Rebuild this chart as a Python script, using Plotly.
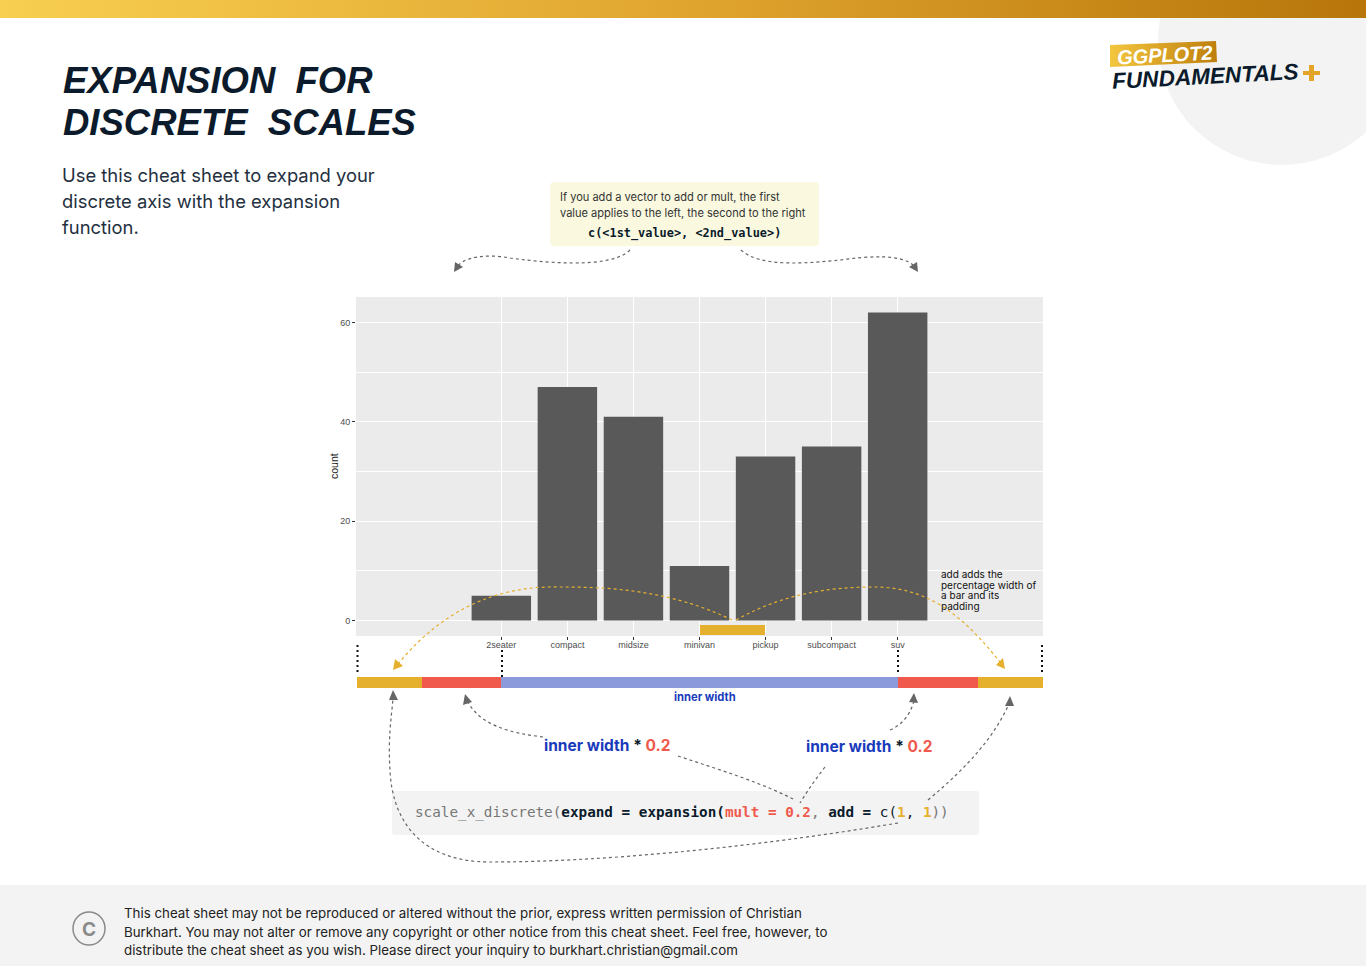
import plotly.graph_objects as go

# chart data
classes = ['2seater', 'compact', 'midsize', 'minivan', 'pickup', 'subcompact', 'suv']
counts = [5, 47, 41, 11, 33, 35, 62]
y_ticks = [0, 20, 40, 60]
y_minor = [10, 30, 50]

title_lines = ['EXPANSION  FOR', 'DISCRETE  SCALES']
intro_lines = ['Use this cheat sheet to expand your', 'discrete axis with the expansion', 'function.']
note_lines = ['If you add a vector to add or mult, the first', 'value applies to the left, the second to the right']
add_lines = ['add adds the', 'percentage width of', 'a bar and its', 'padding']
footer_lines = ['This cheat sheet may not be reproduced or altered without the prior, express written permission of Christian',
                'Burkhart. You may not alter or remove any copyright or other notice from this cheat sheet. Feel free, however, to',
                'distribute the cheat sheet as you wish. Please direct your inquiry to burkhart.christian@gmail.com']

W, H = 1366, 966
GOLD = '#E6B02F'
RED = '#EF5A4D'
BLUE = '#8A9ADB'
INK = '#0B1B2B'
TEXT_BLUE = '#1A3BBB'
ARROW = '#666666'
BODY = 'Inter'
HEAVY = 'Liberation Sans'
MONO = 'DejaVu Sans Mono'


def rect(x0, y0, x1, y1, color, layer='below'):
    return dict(type='rect', xref='x2', yref='y2', x0=x0, y0=y0, x1=x1, y1=y1,
                fillcolor=color, line_width=0, layer=layer)


def rounded(x0, y0, x1, y1, r, color):
    path = (f'M{x0+r},{y0} L{x1-r},{y0} Q{x1},{y0} {x1},{y0+r} L{x1},{y1-r} Q{x1},{y1} {x1-r},{y1} '
            f'L{x0+r},{y1} Q{x0},{y1} {x0},{y1-r} L{x0},{y0+r} Q{x0},{y0} {x0+r},{y0} Z')
    return dict(type='path', xref='x2', yref='y2', path=path, fillcolor=color, line_width=0, layer='below')


def curve(path, color=ARROW):
    return dict(type='path', xref='x2', yref='y2', path=path, line=dict(color=color, width=1.2, dash='3px,3px'),
                layer='above')


def head(p1, p2, p3, color=ARROW):
    path = f'M{p1[0]},{p1[1]} L{p2[0]},{p2[1]} L{p3[0]},{p3[1]} Z'
    return dict(type='path', xref='x2', yref='y2', path=path, fillcolor=color, line_width=0, layer='above')


def dotted(x, y0, y1):
    return dict(type='line', xref='x2', yref='y2', x0=x, x1=x, y0=y0, y1=y1,
                line=dict(color='#111111', width=2, dash='2px,3px'), layer='above')


def label(x, y, text, size, color=INK, family=BODY, anchor='left', angle=0):
    # annotation box padding pushes left-anchored text about 2px to the right
    x_pos = x - 2 if anchor == 'left' else x
    return dict(xref='x2', yref='y2', x=x_pos, y=y, text=text, showarrow=False, xanchor=anchor, yanchor='middle',
                textangle=angle, font=dict(size=size, color=color, family=family))


fig = go.Figure()

fig.add_trace(go.Bar(x=classes, y=counts, width=0.9, marker=dict(color='#595959', line_width=0),
                     hoverinfo='skip', showlegend=False))

# gradient pieces sit on the page axes
fig.add_trace(go.Scatter(x=[0, W, W, 0, 0], y=[0, 0, 18, 18, 0], xaxis='x2', yaxis='y2', mode='lines',
                         line_width=0, fill='toself', hoverinfo='skip', showlegend=False,
                         fillgradient=dict(type='horizontal',
                                           colorscale=[[0, '#F8CF50'], [0.5, '#E0A52F'], [1, '#B8760A']])))
fig.add_trace(go.Scatter(x=[1110, 1216, 1217, 1110, 1110], y=[45, 41, 62, 67, 45], xaxis='x2', yaxis='y2',
                         mode='lines', line_width=0, fill='toself', hoverinfo='skip', showlegend=False,
                         fillgradient=dict(type='horizontal', colorscale=[[0, '#F3C63F'], [1, '#BE7E0C']])))

shapes = [
    # panel goes on paper so it stays under the bars
    dict(type='rect', xref='paper', yref='paper', x0=356 / W, x1=1043 / W, y0=1 - 636 / H, y1=1 - 297 / H,
         fillcolor='#EBEBEB', line_width=0, layer='below'),
    dict(type='circle', xref='x2', yref='y2', x0=1158, x1=1406, y0=-83, y1=165, fillcolor='#F3F3F3',
         line_width=0, layer='below'),
    rect(0, 885, W, H, '#F3F3F3'),
    dict(type='circle', xref='x2', yref='y2', x0=73, x1=105, y0=912, y1=945, fillcolor='rgba(0,0,0,0)',
         line=dict(color='#8A8A8A', width=1.5), layer='below'),
    rounded(550, 182, 819, 246, 4, '#FAF9E0'),
    rounded(392, 791, 979, 835, 3, '#F3F3F3'),
    rect(700, 625, 765, 635, GOLD, 'above'),
    rect(357, 677, 422, 688, GOLD),
    rect(422, 677, 501, 688, RED),
    rect(501, 677, 898, 688, BLUE),
    rect(898, 677, 978, 688, RED),
    rect(978, 677, 1043, 688, GOLD),
    rect(1303, 71, 1320, 75, '#E2A526'),
    rect(1309, 65, 1314, 81, '#E2A526'),
    dotted(357.5, 645, 675),
    dotted(502, 650, 677),
    dotted(898, 650, 674),
    dotted(1042, 645, 675),
    curve('M630,250 C610,270 540,262 510,258 C490,254 465,256 458,266'),
    head((454, 272), (455, 262), (463, 267)),
    curve('M741,250 C760,268 810,263 840,260 C870,256 900,254 913,265'),
    head((918, 272), (917, 262), (909, 267)),
    curve('M732,620 C670,590 610,587 560,587 C480,585 430,625 398,664', GOLD),
    head((393, 670), (395, 659), (403, 666), GOLD),
    curve('M736,620 C790,590 840,587 875,587 C935,587 970,625 1000,662', GOLD),
    head((1005, 669), (996, 665), (1003, 658), GOLD),
    curve('M543,737 C510,733 480,725 468,702'),
    head((465, 694), (463, 705), (472, 702)),
    curve('M890,730 C902,725 910,715 914,701'),
    head((914, 693), (909, 702), (918, 703)),
    curve('M678,756 C720,770 760,782 795,800'),
    curve('M825,767 C815,780 808,790 800,803'),
    curve('M928,800 C970,765 995,735 1009,704'),
    head((1010, 696), (1005, 706), (1014, 706)),
    curve('M898,823 C750,848 600,862 490,862 C420,862 392,820 390,770 C388,740 391,720 393,699'),
    head((393, 690), (389, 700), (398, 700)),
]

code_text = ('<span style="color:#777777">scale_x_discrete(</span><b>expand = expansion(</b>'
             f'<span style="color:{RED}"><b>mult = 0.2</b></span><span style="color:#777777">,</span> '
             '<b>add</b> <b>=</b> c(<span style="color:' + GOLD + '"><b>1</b></span>, '
             '<span style="color:' + GOLD + '"><b>1</b></span><span style="color:#777777">))</span>')
width_text = f'<b><span style="color:{TEXT_BLUE}">inner width</span> * <span style="color:{RED}">0.2</span></b>'

annotations = [
    label(63, 80, f'<b><i>{title_lines[0]}</i></b>', 36.5, family=HEAVY),
    label(63, 122, f'<b><i>{title_lines[1]}</i></b>', 36.5, family=HEAVY),
    label(684, 233, '<b>c(&lt;1st_value&gt;, &lt;2nd_value&gt;)</b>', 11.9, family=MONO, anchor='center'),
    label(415, 812, code_text, 14.3, family=MONO),
    label(705, 697, '<b>inner width</b>', 11.2, color=TEXT_BLUE, anchor='center'),
    label(544, 745, width_text, 15.5),
    label(806, 746, width_text, 15.5),
    label(89, 929, '<b>C</b>', 19, color='#8A8A8A', anchor='center'),
    label(1116, 55, '<b><i>GGPLOT2</i></b>', 20, color='#FFFFFF', family=HEAVY, angle=-3),
    label(1111, 76, '<b><i>FUNDAMENTALS</i></b>', 22.6, family=HEAVY, angle=-3),
    label(334, 466, 'count', 10.5, color='#222222', family=HEAVY, anchor='center', angle=-90),
]
for i, line in enumerate(intro_lines):
    annotations.append(label(62, 175 + 26 * i, line, 18.4, color='#243040'))
for i, line in enumerate(note_lines):
    annotations.append(label(560, 197 + 15.5 * i, line, 11.05, color='#333333'))
for i, line in enumerate(add_lines):
    annotations.append(label(941, 574 + 10.7 * i, line, 10, color='#111111'))
for i, line in enumerate(footer_lines):
    annotations.append(label(124, 913 + 18.5 * i, line, 13.3, color='#222222'))

fig.update_layout(
    width=W, height=H, autosize=False,
    margin=dict(l=0, r=0, t=0, b=0),
    paper_bgcolor='#FFFFFF', plot_bgcolor='rgba(0,0,0,0)',
    font=dict(family=HEAVY),
    shapes=shapes, annotations=annotations,
    xaxis=dict(domain=[356 / W, 1043 / W], range=[-2.2, 8.2], type='category', categoryorder='array',
               categoryarray=classes, showgrid=True, gridcolor='#FFFFFF', gridwidth=1, ticks='outside',
               ticklen=3, tickcolor='#333333', tickfont=dict(size=9, color='#4D4D4D'), zeroline=False,
               ticklabelstandoff=-3, anchor='y'),
    yaxis=dict(domain=[1 - 636 / H, 1 - 297 / H], range=[-3.1, 65.1], tickvals=y_ticks, showgrid=True,
               gridcolor='#FFFFFF', gridwidth=1, ticks='outside', ticklen=3, tickcolor='#333333',
               tickfont=dict(size=9, color='#4D4D4D'), zeroline=False, anchor='x',
               minor=dict(tickvals=y_minor, showgrid=True, gridcolor='#FFFFFF', gridwidth=0.5, ticks='')),
    xaxis2=dict(domain=[0, 1], range=[0, W], visible=False, anchor='y2', fixedrange=True),
    yaxis2=dict(domain=[0, 1], range=[H, 0], visible=False, anchor='x2', fixedrange=True),
)

# browser default body margin would shift the whole sheet by 8px
fig.write_html('out.html', config=dict(displayModeBar=False), post_script="document.body.style.margin='0';")
